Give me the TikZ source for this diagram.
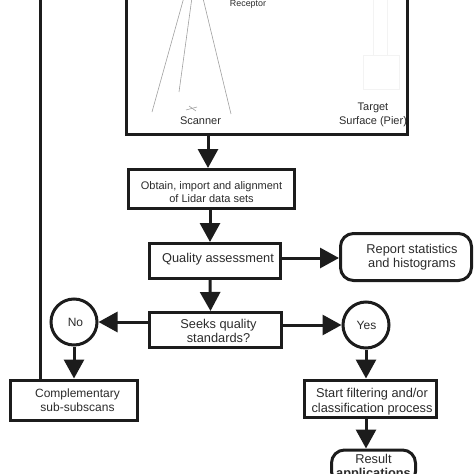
\documentclass[tikz,border=0pt]{standalone}
\usepackage{xcolor}
\usepackage{fontspec}
\setmainfont{Liberation Sans}
\usetikzlibrary{
  arrows.meta,
  shapes.geometric,
  positioning
}
\definecolor{lsInk}{HTML}{1C1C1C}
\definecolor{lsText}{HTML}{2B2B2B}
\definecolor{lsThin}{HTML}{A0A0A0}
\definecolor{lsFaint}{HTML}{F3F3F3}
\tikzset{
  flowbox/.style={
    draw=lsInk, line width=3pt, rectangle, align=center, text=lsText,
    font=\fontsize{12.8}{14.5}\selectfont, inner sep=2pt
  },
  smallbox/.style={flowbox, font=\fontsize{11}{13}\selectfont},
  endbox/.style={flowbox, rounded corners=13pt},
  decision/.style={flowbox, circle, minimum size=46pt, inner sep=0pt, font=\fontsize{12}{14}\selectfont},
  flow/.style={-{Triangle[length=19pt,width=20pt]}, line width=3pt, lsInk},
  feedline/.style={line width=3pt, lsInk},
  rayline/.style={line width=0.6pt, lsThin},
  targetline/.style={line width=0.5pt, lsFaint},
  tag/.style={text=lsText, align=center, font=\fontsize{11}{14}\selectfont, inner sep=0pt}
}
\begin{document}
\begin{tikzpicture}[x=1pt,y=1pt]
  \clip (0,0) rectangle (474,-474);
  \node[flowbox, minimum width=281pt, minimum height=173pt] (scanbox) at (267,-48) {};
  \node[smallbox, minimum width=166pt, minimum height=39pt] (obtain) at (211.5,-189) {\rule{0pt}{14pt}Obtain, import and alignment\\of Lidar data sets};
  \node[flowbox, below=32pt of obtain, xshift=3.5pt, minimum width=131pt, minimum height=35pt] (quality) {\hspace*{6pt}Quality assessment\rule[-6.7pt]{0pt}{0pt}};
  \node[flowbox, below=31pt of quality, minimum width=132pt, minimum height=35pt] (seeks) {\hspace*{7pt}\rule{0pt}{11pt}Seeks quality\\\hspace*{7pt}standards?};
  \node[endbox, right=57pt of quality, yshift=4pt, minimum width=131pt, minimum height=47pt] (report) {\hspace*{12pt}Report statistics\\\hspace*{12pt}and histograms};
  \node[decision, left=49pt of seeks, yshift=8pt] (noflag) {\hspace*{3pt}No};
  \node[decision, right=59pt of seeks, yshift=5pt] (yesflag) {\hspace*{1pt}Yes};
  \node[flowbox, below=32pt of noflag, minimum width=127pt, minimum height=40pt, font=\fontsize{12}{14}\selectfont] (compl) {\hspace*{7pt}Complementary\\\hspace*{7pt}sub-subscans};
  \node[flowbox, below=29pt of yesflag, xshift=4.5pt, minimum width=132pt, minimum height=37pt] (start) {\hspace*{3pt}\rule{0pt}{15.5pt}Start filtering and/or\\\hspace*{3pt}classification process};
  \node[endbox, below=30pt of start, xshift=3pt, minimum width=84pt, inner ysep=4pt] (result) {Result\\\textbf{applications}};
  \coordinate (topleft) at (40,10);

  \node[tag, font=\fontsize{8.9}{11}\selectfont] (receptor) at (248,-4) {Receptor};
  \node[tag] (scanner) at (200.5,-121) {Scanner};
  \node[tag] (target) at (373,-114.5) {Target\\Surface (Pier)};
  \draw[rayline] (186,10) -- (152,-112);
  \draw[rayline] (193,10) -- (179,-92);
  \draw[rayline] (201,10) -- (231,-114);
  \draw[rayline] (186,-110) -- (197,-107);
  \draw[rayline] (189,-106) -- (196,-111);
  \draw[targetline] (363,-55) rectangle (399,-89);
  \draw[targetline] (373,10) -- (373,-55);
  \draw[targetline] (387,10) -- (387,-55);

  \draw[flow] ([xshift=-3.5pt]obtain.north |- scanbox.south) -- ([xshift=-3.5pt]obtain.north);
  \draw[flow] ([xshift=-1.5pt]obtain.south) -- ([xshift=-5pt]quality.north);
  \draw[flow] ([yshift=3pt]quality.east) -- ([yshift=3pt]quality.east -| report.west);
  \draw[flow] ([xshift=-5pt]quality.south) -- ([xshift=-4.5pt]seeks.north);
  \draw[flow] (seeks.west |- noflag) -- (noflag);
  \draw[flow] (seeks.east |- yesflag) -- (yesflag);
  \draw[flow] (noflag) -- (compl.north -| noflag);
  \draw[flow] (yesflag) -- (start.north -| yesflag);
  \draw[flow] (start.south -| yesflag) -- (result.north -| yesflag);
  \draw[feedline] (compl.north -| topleft) -- (topleft);
\end{tikzpicture}
\end{document}
